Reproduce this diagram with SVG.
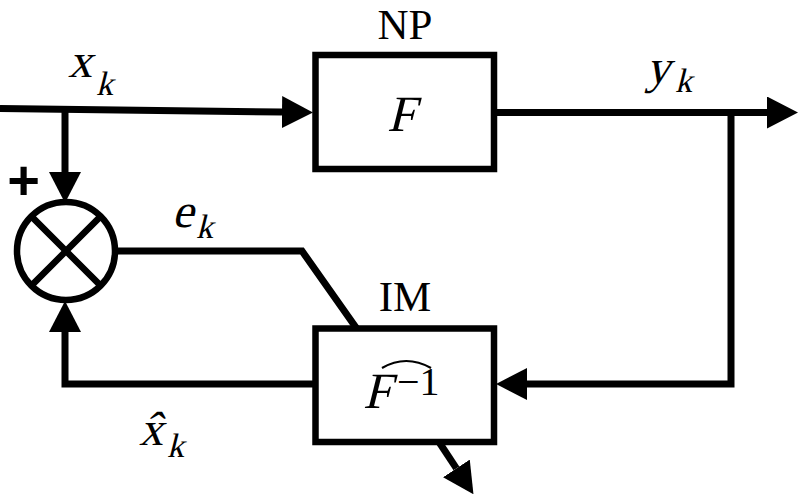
<svg xmlns="http://www.w3.org/2000/svg" width="800" height="496" viewBox="0 0 800 496">
  <defs>
    <style>
      .box { fill: #ffffff; stroke: #000000; stroke-width: 6.5; }
      .wire { fill: none; stroke: #000000; stroke-width: 7; stroke-linejoin: miter; }
      .arrow { marker-end: url(#ah); }
      .title { font-family: "Liberation Serif", "Times New Roman", serif; font-size: 43px; fill: #000; text-anchor: middle; }
      .up { font-family: "Liberation Serif", "Times New Roman", serif; fill: #000; font-size: 40px; }
      .m { font-family: "Liberation Serif", "Times New Roman", serif; fill: #000; font-size: 48px; }
      .s { font-family: "Liberation Serif", "Times New Roman", serif; fill: #000; font-size: 34px; }
      .cap { font-family: "Liberation Serif", "Times New Roman", serif; fill: #000; font-size: 51px; }
    </style>
    <marker id="ah" viewBox="0 0 31 32" refX="0" refY="16" markerWidth="31" markerHeight="32" markerUnits="userSpaceOnUse" orient="auto">
      <path d="M0,0 L31,16 L0,32 Z" fill="#000"/>
    </marker>
  </defs>
  <rect width="800" height="496" fill="#ffffff"/>

  <g id="connectors">
    <path class="wire arrow" d="M0,108.5 L282,112"/>
    <path class="wire arrow" d="M65,109 L65,172"/>
    <path class="wire arrow" d="M497,112.5 L767,112.5"/>
    <path class="wire arrow" d="M731,112.5 L731,384 L527,384"/>
    <path class="wire arrow" d="M316,384 L65,384 L65,332"/>
    <path class="wire" d="M115,251 L302,251 L357,329"/>
    <path class="wire arrow" d="M439,442 L456.4,468.4"/>
  </g>

  <g id="node-np">
    <rect class="box" x="315.5" y="55" width="178.5" height="114"/>
    <text class="title" x="405" y="39">NP</text>
    <g transform="translate(387,131) skewX(-14)"><text class="cap" x="0" y="0">F</text></g>
  </g>

  <g id="node-im">
    <rect class="box" x="315.5" y="328.5" width="178.5" height="113.5"/>
    <text class="title" x="405" y="311">IM</text>
    <g transform="translate(363,408) skewX(-14)"><text class="cap" x="0" y="0">F</text></g>
    <text class="up" x="397" y="395">−1</text>
    <path d="M382,368 Q406,354 431,368" fill="none" stroke="#000" stroke-width="2.2"/>
  </g>

  <g id="node-sum">
    <circle cx="66" cy="251" r="49" fill="#fff" stroke="#000" stroke-width="6.5"/>
    <path d="M31.4,216.4 L100.6,285.6 M100.6,216.4 L31.4,285.6" stroke="#000" stroke-width="6.5"/>
    <text x="23.5" y="199" font-family="Liberation Sans, Arial, sans-serif" font-weight="bold" font-size="56" text-anchor="middle">+</text>
  </g>

  <g id="labels">
    <g transform="translate(68,77) skewX(-14)"><text class="m" x="0" y="0">x</text></g>
    <g transform="translate(96,95) skewX(-14)"><text class="s" x="0" y="0">k</text></g>
    <g transform="translate(646,83) skewX(-14)"><text class="m" x="0" y="0">y</text></g>
    <g transform="translate(675,92) skewX(-14)"><text class="s" x="0" y="0">k</text></g>
    <g transform="translate(172,227) skewX(-14)"><text class="m" x="0" y="0">e</text></g>
    <g transform="translate(196,238) skewX(-14)"><text class="s" x="0" y="0">k</text></g>
    <g transform="translate(139,445) skewX(-14)"><text class="m" x="0" y="0">x̂</text></g>
    <g transform="translate(167,457) skewX(-14)"><text class="s" x="0" y="0">k</text></g>
  </g>
</svg>
